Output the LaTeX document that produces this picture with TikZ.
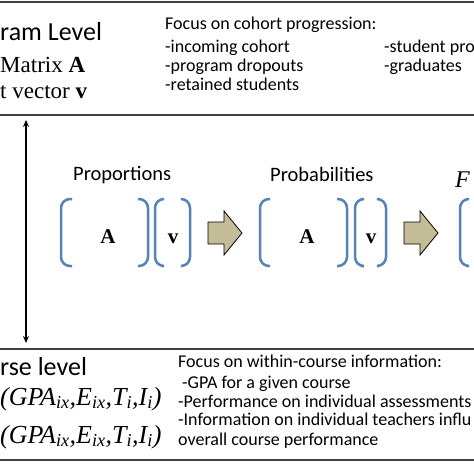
\documentclass[tikz,border=0pt]{standalone}
\usepackage{fontspec}
\setmainfont{Carlito}
\newfontfamily\timesfont{Liberation Serif}
\usepackage{xcolor}
\usepackage{tikz}
\usetikzlibrary{arrows.meta}

\definecolor{bracketblue}{RGB}{84,130,190}
\definecolor{arrowtan}{RGB}{196,188,150}
\definecolor{framegray}{RGB}{64,64,64}

\begin{document}
\begin{tikzpicture}[
		x=1pt, y=-1pt,
		every node/.style={inner sep=0pt, anchor=base west},
		frame line/.style={framegray, line width=2pt},
		level title/.style={font=\fontsize{26}{30}\selectfont},
		level math/.style={font=\fontsize{23}{28}\timesfont},
		level func/.style={font=\fontsize{26}{30}\timesfont\itshape},
		focus text/.style={font=\fontsize{18}{20}\selectfont},
		column title/.style={font=\fontsize{20.5}{24}\selectfont},
		bracket/.style={bracketblue, line width=2.5pt, rounded corners=9pt},
		block arrow/.style={draw=black, fill=arrowtan, line width=0.8pt},
		entry/.style={anchor=base, font=\fontsize{21}{24}\timesfont\bfseries}
		]

	\useasboundingbox (0,0) rectangle (474,474);

	% Program level box
	\draw[frame line] (0,2) -- (474,2);
	\draw[frame line] (0,115) -- (474,115);
	\node[level title] (prog) at (0,40) {ram Level};
	\node[level math] (matA) at (0,72) {Matrix \textbf{A}};
	\node[level math] (vecv) at (0,98) {t vector \textbf{v}};

	% Cohort focus
	\node[focus text] (cohort) at (165,29) {Focus on cohort progression:};
	\node[focus text] (incoming) at (165,52) {-incoming cohort};
	\node[focus text] (dropouts) at (165,71) {-program dropouts};
	\node[focus text] (retained) at (165,90) {-retained students};
	\node[focus text] (studpro) at (384,52) {-student pro};
	\node[focus text] (grads) at (384,71) {-graduates};

	% Level arrow
	\coordinate (arrtop) at (26,120);
	\coordinate (arrbot) at (26,343);
	\draw[{Stealth[length=7pt,width=6pt]}-{Stealth[length=7pt,width=6pt]}, line width=1.4pt] (arrtop) -- (arrbot);

	% Column titles
	\node[column title] (proportions) at (73,180) {Proportions};
	\node[column title] (probabilities) at (270,181) {Probabilities};
	\node[font=\fontsize{24}{28}\timesfont\itshape] (nextF) at (455,187) {F};

	% Left brackets
	\foreach \xl/\xr in {61/72, 155/162, 260/270, 355/361, 460/467}{
		\draw[bracket] (\xr,199) -- (\xl,199) -- (\xl,266) -- (\xr,266);
	}

	% Right brackets
	\foreach \xr/\xl in {148/138, 190/182, 347/337, 386/379}{
		\draw[bracket] (\xl,199) -- (\xr,199) -- (\xr,266) -- (\xl,266);
	}

	% Matrix and vector entries
	\node[entry] (A1) at (108,243) {A};
	\node[entry] (v1) at (173,243) {v};
	\node[entry] (A2) at (307,243) {A};
	\node[entry] (v2) at (371,243) {v};

	% Block arrows
	\foreach \x in {208, 404}{
		\draw[block arrow] (\x,222) -- (\x+16,222) -- (\x+16,211) -- (\x+34,233)
			-- (\x+16,255) -- (\x+16,244) -- (\x,244) -- cycle;
	}

	% Course level box
	\draw[frame line] (0,349) -- (474,349);
	\draw[frame line] (0,460) -- (474,460);
	\node[level title] (course) at (0,375) {rse level};
	\node[level func] (fone) at (0,405) {(GPA\textsubscript{ix},E\textsubscript{ix},T\textsubscript{i},I\textsubscript{i})};
	\node[level func] (ftwo) at (0,443) {(GPA\textsubscript{ix},E\textsubscript{ix},T\textsubscript{i},I\textsubscript{i})};

	% Within-course focus
	\node[focus text] (within) at (178,367) {Focus on within-course information:};
	\node[focus text] (gpa) at (182,388) {-GPA for a given course};
	\node[focus text] (perf) at (178,407) {-Performance on individual assessments};
	\node[focus text] (info) at (178,425) {-Information on individual teachers influ};
	\node[focus text] (overall) at (178,445) {overall course performance};

\end{tikzpicture}
\end{document}
